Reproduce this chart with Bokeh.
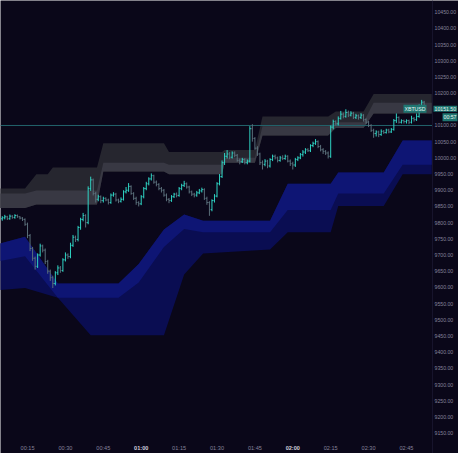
from bokeh.plotting import figure
from bokeh.models import Range1d, Label, ColumnDataSource
from bokeh.core.properties import value
from bokeh.embed import file_html
from bokeh.resources import INLINE

# ---------------- data ----------------
minutes = list(range(5, 173))  # minutes after 00:00, one bar per minute

opens = [9812, 9815, 9818, 9812, 9820, 9816, 9822, 9818, 9814, 9810,
         9795, 9760, 9720, 9690, 9665, 9700, 9728, 9715, 9680, 9650,
         9630, 9612, 9645, 9660, 9652, 9685, 9700, 9695, 9730, 9755,
         9748, 9785, 9810, 9822, 9800, 9905, 9932, 9890, 9872, 9880,
         9868, 9875, 9870, 9862, 9885, 9888, 9870, 9866, 9872, 9895,
         9900, 9912, 9890, 9875, 9862, 9858, 9880, 9905, 9920, 9935,
         9945, 9925, 9918, 9905, 9900, 9885, 9872, 9868, 9880, 9888,
         9884, 9905, 9915, 9920, 9910, 9895, 9888, 9885, 9892, 9898,
         9902, 9875, 9862, 9840, 9868, 9882, 9920, 9942, 9985, 10005,
         10012, 10002, 10015, 10008, 9992, 9988, 9995, 9985, 9990, 10090,
         10060, 10030, 10012, 9985, 9980, 9990, 9975, 9995, 10005, 10000,
         9992, 10000, 9998, 10005, 9990, 9982, 9978, 9995, 10000, 10010,
         10018, 10025, 10022, 10038, 10045, 10050, 10035, 10025, 10020, 10015,
         10005, 10095, 10112, 10105, 10122, 10135, 10128, 10140, 10132, 10138,
         10125, 10130, 10125, 10132, 10118, 10110, 10100, 10085, 10075, 10080,
         10072, 10082, 10078, 10086, 10080, 10088, 10115, 10125, 10110, 10115,
         10112, 10115, 10110, 10122, 10118, 10128, 10160, 10172]

highs = [9820, 9824, 9821, 9825, 9823, 9826, 9825, 9820, 9817, 9813,
         9800, 9765, 9725, 9695, 9705, 9735, 9732, 9720, 9685, 9655,
         9636, 9650, 9668, 9666, 9690, 9708, 9705, 9738, 9762, 9760,
         9790, 9815, 9830, 9826, 9912, 9942, 9936, 9895, 9886, 9884,
         9880, 9878, 9874, 9890, 9894, 9892, 9874, 9878, 9900, 9910,
         9922, 9915, 9894, 9880, 9866, 9885, 9910, 9926, 9940, 9952,
         9948, 9930, 9922, 9910, 9904, 9890, 9876, 9885, 9892, 9893,
         9910, 9920, 9929, 9924, 9914, 9899, 9892, 9898, 9904, 9908,
         9906, 9880, 9866, 9872, 9888, 9925, 9950, 9992, 10015, 10024,
         10018, 10020, 10020, 10012, 9998, 10000, 9999, 9995, 10098, 10104,
         10064, 10036, 10016, 9992, 9996, 9994, 9999, 10010, 10010, 10004,
         10006, 10008, 10010, 10008, 9995, 9988, 10000, 10005, 10015, 10024,
         10030, 10030, 10042, 10050, 10058, 10054, 10040, 10030, 10024, 10020,
         10100, 10118, 10116, 10128, 10145, 10140, 10150, 10146, 10144, 10142,
         10136, 10134, 10138, 10135, 10122, 10114, 10104, 10090, 10085, 10084,
         10088, 10086, 10090, 10090, 10092, 10120, 10137, 10128, 10119, 10118,
         10119, 10118, 10130, 10126, 10137, 10165, 10179, 10176]

lows = [9806, 9810, 9808, 9809, 9812, 9812, 9815, 9810, 9805, 9790,
        9752, 9712, 9682, 9655, 9660, 9695, 9708, 9672, 9642, 9620,
        9598, 9606, 9638, 9645, 9648, 9680, 9688, 9690, 9725, 9740,
        9742, 9778, 9804, 9785, 9795, 9898, 9884, 9862, 9866, 9860,
        9862, 9866, 9856, 9858, 9880, 9865, 9860, 9862, 9868, 9890,
        9895, 9886, 9870, 9855, 9850, 9854, 9875, 9900, 9915, 9930,
        9920, 9912, 9900, 9893, 9880, 9866, 9860, 9864, 9876, 9878,
        9880, 9900, 9910, 9905, 9890, 9882, 9878, 9880, 9888, 9893,
        9870, 9855, 9821, 9835, 9862, 9878, 9915, 9938, 9978, 9998,
        9996, 9998, 10002, 9988, 9980, 9984, 9980, 9980, 9986, 10050,
        10025, 10006, 9978, 9964, 9974, 9968, 9970, 9990, 9995, 9986,
        9988, 9993, 9994, 9986, 9975, 9964, 9972, 9990, 9996, 10004,
        10012, 10018, 10018, 10033, 10040, 10030, 10020, 10012, 10009, 9998,
        10000, 10088, 10100, 10100, 10118, 10122, 10124, 10126, 10128, 10120,
        10120, 10118, 10120, 10112, 10104, 10095, 10080, 10062, 10066, 10064,
        10068, 10074, 10075, 10076, 10077, 10084, 10108, 10106, 10106, 10106,
        10106, 10104, 10106, 10112, 10114, 10124, 10155, 10148]

closes = [9815, 9818, 9812, 9820, 9816, 9822, 9818, 9814, 9810, 9795,
          9760, 9720, 9690, 9665, 9700, 9728, 9715, 9680, 9650, 9630,
          9612, 9645, 9660, 9652, 9685, 9700, 9695, 9730, 9755, 9748,
          9785, 9810, 9822, 9800, 9905, 9932, 9890, 9872, 9880, 9868,
          9875, 9870, 9862, 9885, 9888, 9870, 9866, 9872, 9895, 9900,
          9912, 9890, 9875, 9862, 9858, 9880, 9905, 9920, 9935, 9945,
          9925, 9918, 9905, 9900, 9885, 9872, 9868, 9880, 9888, 9884,
          9905, 9915, 9920, 9910, 9895, 9888, 9885, 9892, 9898, 9902,
          9875, 9862, 9840, 9868, 9882, 9920, 9942, 9985, 10005, 10012,
          10002, 10015, 10008, 9992, 9988, 9995, 9985, 9990, 10090, 10060,
          10030, 10012, 9985, 9980, 9990, 9975, 9995, 10005, 10000, 9992,
          10000, 9998, 10005, 9990, 9982, 9978, 9995, 10000, 10010, 10018,
          10025, 10022, 10038, 10045, 10050, 10035, 10025, 10020, 10015, 10005,
          10095, 10112, 10105, 10122, 10135, 10128, 10140, 10132, 10138, 10125,
          10130, 10125, 10132, 10118, 10110, 10100, 10085, 10075, 10080, 10072,
          10082, 10078, 10086, 10080, 10088, 10115, 10125, 10110, 10115, 10112,
          10115, 10110, 10122, 10118, 10128, 10160, 10172, 10151.5]

# upper (grey) cloud: knots in minutes, top edge, top of the lighter strip, bottom edge
gray_t = [4, 14, 18.5, 23, 25, 42.5, 45, 69, 71, 92, 93, 105, 108, 134, 137, 148, 152, 175]
gray_top = [9905, 9905, 9949, 9949, 9970, 9970, 10045, 10045, 10018, 10018,
            10024, 10024, 10128, 10128, 10143, 10143, 10197, 10197]
gray_inner = [9890, 9890, 9899, 9899, 9899, 9899, 9985, 9985, 9979, 9979,
              10000, 10000, 10098, 10098, 10110, 10110, 10170, 10170]
gray_bottom = [9845, 9845, 9856, 9856, 9856, 9856, 9958, 9958, 9949, 9949,
               9985, 9985, 10069, 10069, 10092, 10092, 10137, 10137]

# lower (blue) cloud: knots in minutes, top edge, bottom of the bright strip, bottom edge
blue_t = [4, 14, 27, 40, 51, 59, 69, 77, 84.5, 111, 118, 135, 138, 156, 163.5, 175]
blue_top = [9735, 9756, 9612, 9612, 9612, 9672, 9779, 9825, 9806, 9806,
            9920, 9920, 9955, 9955, 10054, 10054]
blue_inner = [9681, 9696, 9568, 9568, 9568, 9615, 9725, 9780, 9770, 9770,
              9839, 9839, 9890, 9890, 9979, 9979]
blue_bottom = [9592, 9598, 9568, 9452, 9452, 9452, 9452, 9640, 9705, 9717,
               9770, 9770, 9851, 9851, 9949, 9949]

time_ticks = [15, 30, 45, 60, 75, 90, 105, 120, 135, 150, 165]
time_labels = ["00:15", "00:30", "00:45", "01:00", "01:15", "01:30",
               "01:45", "02:00", "02:15", "02:30", "02:45"]
hour_ticks = [60, 120]
price_ticks = list(range(9150, 10451, 50))
price_labels = ["%.2f" % v for v in price_ticks]

symbol = "XBTUSD"
last_price = 10151.5
last_price_text = "10151.50"
countdown = "00:57"
ref_level = 10100

# ---------------- layout ----------------
W, H = 458, 453
AXIS_W, AXIS_H = 26, 12
x_start, x_end = 4.3, 175.3          # price pane, in minutes
y_start, y_end = 9124, 10486         # price pane, in price
mpp = (x_end - x_start) / (W - AXIS_W)   # minutes per pixel
ppp = (y_end - y_start) / (H - AXIS_H)   # price per pixel
x_full = x_end + AXIS_W * mpp
y_full = y_start - AXIS_H * ppp

BG = "#0a0719"
UP = "#2fd3c3"
DOWN = "#5a6f7a"
AXIS_TEXT = "#85839a"
FONT = "Liberation Sans"
BOX = "#1f7671"

p = figure(width=W, height=H, x_range=Range1d(x_start, x_full),
           y_range=Range1d(y_full, y_end), x_axis_location=None, y_axis_location=None,
           output_backend="svg", toolbar_location=None,
           background_fill_color=BG, border_fill_color=BG, outline_line_color=None,
           min_border=0)
p.grid.visible = False

# clouds
p.varea(x=blue_t, y1=blue_bottom, y2=blue_top, fill_color="#0a0d52")
p.varea(x=blue_t, y1=blue_inner, y2=blue_top, fill_color="#0e1574")
p.varea(x=gray_t, y1=gray_bottom, y2=gray_top, fill_color="#26262f")
p.varea(x=gray_t, y1=gray_bottom, y2=gray_inner, fill_color="#383843")

# reference level line across the price pane
p.line(x=[x_start, x_end], y=[ref_level, ref_level], line_color="#22636b", line_width=1)

# OHLC bars
half = 0.42
colors = [UP if c >= o else DOWN for o, c in zip(opens, closes)]
src = ColumnDataSource(dict(
    x=minutes, xl=[m - half for m in minutes], xr=[m + half for m in minutes],
    o=opens, h=highs, l=lows, c=closes, col=colors))
p.segment(x0="x", y0="l", x1="x", y1="h", line_color="col", line_width=1, source=src)
p.segment(x0="xl", y0="o", x1="x", y1="o", line_color="col", line_width=1, source=src)
p.segment(x0="x", y0="c", x1="xr", y1="c", line_color="col", line_width=1, source=src)

# pane separator
p.line(x=[x_end, x_end], y=[y_full, y_end], line_color="#17142c", line_width=1)

# right price scale
p.text(x=[x_end + 2 * mpp] * len(price_ticks), y=price_ticks, text=price_labels,
       text_font=value(FONT), text_font_size=value("5.2px"), text_color=AXIS_TEXT,
       text_align="left", text_baseline="middle")

# bottom time scale
norm_t = [t for t in time_ticks if t not in hour_ticks]
norm_l = [l for t, l in zip(time_ticks, time_labels) if t not in hour_ticks]
hour_l = [l for t, l in zip(time_ticks, time_labels) if t in hour_ticks]
label_y = y_start - 6.5 * ppp
p.text(x=norm_t, y=[label_y] * len(norm_t), text=norm_l,
       text_font=value(FONT), text_font_size=value("5.6px"), text_color=AXIS_TEXT,
       text_align="center", text_baseline="middle")
p.text(x=hour_ticks, y=[label_y] * len(hour_ticks), text=hour_l,
       text_font=value(FONT), text_font_size=value("5.6px"), text_font_style="bold",
       text_color="#cfcfdc", text_align="center", text_baseline="middle")

# last price boxes
p.add_layout(Label(x=x_end, x_offset=-6, y=last_price, text=symbol, text_font=FONT,
                   text_font_size="5.2px", text_color="#e6f4f2", text_align="right",
                   text_baseline="middle", background_fill_color=BOX, padding=1))
p.add_layout(Label(x=x_end, x_offset=1, y=last_price, text=last_price_text, text_font=FONT,
                   text_font_size="5.2px", text_color="#e6f4f2", text_align="left",
                   text_baseline="middle", background_fill_color=BOX, padding=1))
p.add_layout(Label(x=x_full, x_offset=-1, y=last_price - 8.5 * ppp, text=countdown, text_font=FONT,
                   text_font_size="5.2px", text_color="#e6f4f2", text_align="right",
                   text_baseline="middle", background_fill_color=BOX, padding=1))

open("out.html", "w").write(file_html(p, INLINE))
